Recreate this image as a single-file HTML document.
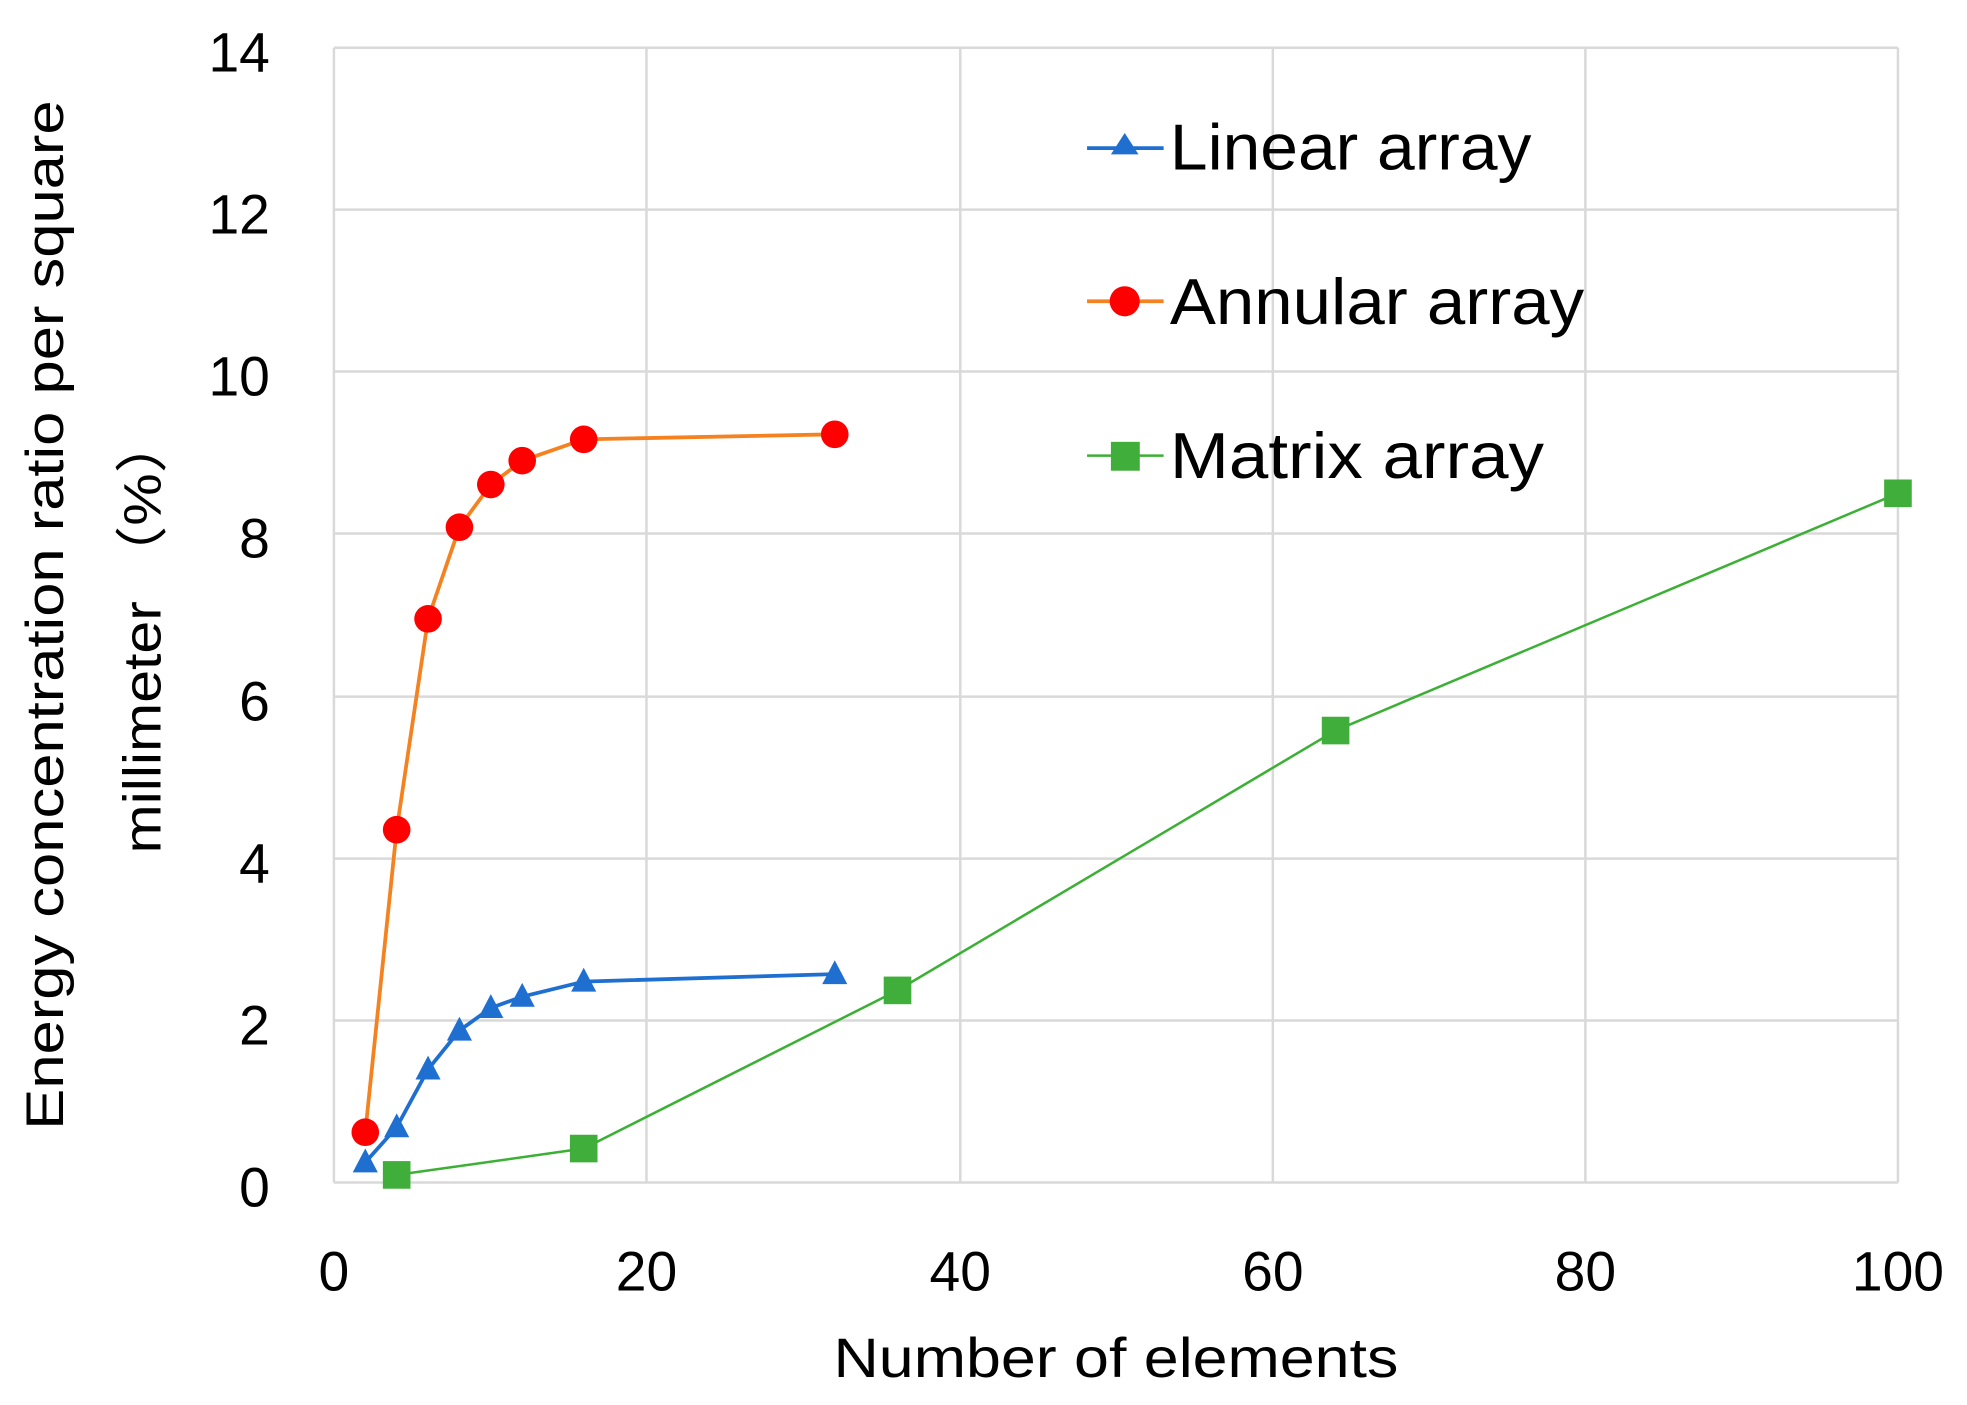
<!DOCTYPE html>
<html><head><meta charset="utf-8"><style>html,body{margin:0;padding:0;background:#fff}svg{display:block}</style></head>
<body>
<svg width="1967" height="1405" viewBox="0 0 1567 1119.3" xmlns="http://www.w3.org/2000/svg" font-family="Liberation Sans, sans-serif">
<rect width="1567" height="1120" fill="#fff"/>
<g stroke="#d9d9d9" stroke-width="2">
<line x1="266" y1="38" x2="1512" y2="38"/>
<line x1="266" y1="167" x2="1512" y2="167"/>
<line x1="266" y1="296" x2="1512" y2="296"/>
<line x1="266" y1="425" x2="1512" y2="425"/>
<line x1="266" y1="555" x2="1512" y2="555"/>
<line x1="266" y1="684" x2="1512" y2="684"/>
<line x1="266" y1="813" x2="1512" y2="813"/>
<line x1="515" y1="38" x2="515" y2="942"/>
<line x1="765" y1="38" x2="765" y2="942"/>
<line x1="1014" y1="38" x2="1014" y2="942"/>
<line x1="1263" y1="38" x2="1263" y2="942"/>
<line x1="1512" y1="38" x2="1512" y2="942"/>
<line x1="266" y1="38" x2="266" y2="942"/>
<line x1="266" y1="942" x2="1512" y2="942"/>
</g>
<g font-size="44" fill="#000" text-anchor="end">
<text x="215" y="57">14</text><text x="215" y="186">12</text><text x="215" y="315">10</text>
<text x="215" y="444">8</text><text x="215" y="574">6</text><text x="215" y="703">4</text>
<text x="215" y="832">2</text><text x="215" y="961">0</text>
</g>
<g font-size="44" fill="#000" text-anchor="middle">
<text x="266" y="1028">0</text><text x="515" y="1028">20</text><text x="765" y="1028">40</text>
<text x="1014" y="1028">60</text><text x="1263" y="1028">80</text><text x="1512" y="1028">100</text>
</g>
<text x="889" y="1097" font-size="44" text-anchor="middle" textLength="450" lengthAdjust="spacingAndGlyphs">Number of elements</text>
<text transform="translate(50,490) rotate(-90)" font-size="42" text-anchor="middle" textLength="820" lengthAdjust="spacingAndGlyphs">Energy concentration ratio per square</text>
<text transform="translate(128,505) rotate(-90)" font-size="42" text-anchor="middle" textLength="350" lengthAdjust="spacingAndGlyphs">millimeter （%）</text>
<!-- Matrix -->
<polyline fill="none" stroke="#3cb035" stroke-width="2" points="316,936 465,915 715,789 1064,582 1512,393"/>
<g fill="#3fae3a"><rect x="305" y="925" width="22" height="22"/><rect x="454" y="904" width="22" height="22"/><rect x="704" y="778" width="22" height="22"/><rect x="1053" y="571" width="22" height="22"/><rect x="1501" y="382" width="22" height="22"/></g>
<!-- Annular -->
<polyline fill="none" stroke="#f58220" stroke-width="3" points="291,902 316,661 341,493 366,420 391,386 416,367 465,350 665,346"/>
<g fill="#ff0000"><circle cx="291" cy="902" r="11"/><circle cx="316" cy="661" r="11"/><circle cx="341" cy="493" r="11"/><circle cx="366" cy="420" r="11"/><circle cx="391" cy="386" r="11"/><circle cx="416" cy="367" r="11"/><circle cx="465" cy="350" r="11"/><circle cx="665" cy="346" r="11"/></g>
<!-- Linear -->
<polyline fill="none" stroke="#1f6fd0" stroke-width="3" points="291,926 316,898 341,852 366,821 391,803 416,794 465,782 665,776"/>
<g fill="#1f6fd0">
<polygon points="291,915 281,934 301,934"/><polygon points="316,887 306,906 326,906"/><polygon points="341,841 331,860 351,860"/><polygon points="366,810 356,829 376,829"/><polygon points="391,792 381,811 401,811"/><polygon points="416,783 406,802 426,802"/><polygon points="465,771 455,790 475,790"/><polygon points="665,765 655,784 675,784"/>
</g>
<!-- Legend -->
<line x1="866" y1="118" x2="927" y2="118" stroke="#1f6fd0" stroke-width="3"/>
<polygon points="896,106 885,123 907,123" fill="#1f6fd0"/>
<text x="932" y="135" font-size="52" textLength="288" lengthAdjust="spacingAndGlyphs">Linear array</text>
<line x1="866" y1="240" x2="927" y2="240" stroke="#f58220" stroke-width="3"/>
<circle cx="896" cy="240" r="12" fill="#ff0000"/>
<text x="932" y="258" font-size="52" textLength="330" lengthAdjust="spacingAndGlyphs">Annular array</text>
<line x1="866" y1="363" x2="927" y2="363" stroke="#3cb035" stroke-width="2"/>
<rect x="885" y="352" width="23" height="23" fill="#3fae3a"/>
<text x="932" y="381" font-size="52" textLength="298" lengthAdjust="spacingAndGlyphs">Matrix array</text>
</svg>
</body></html>
